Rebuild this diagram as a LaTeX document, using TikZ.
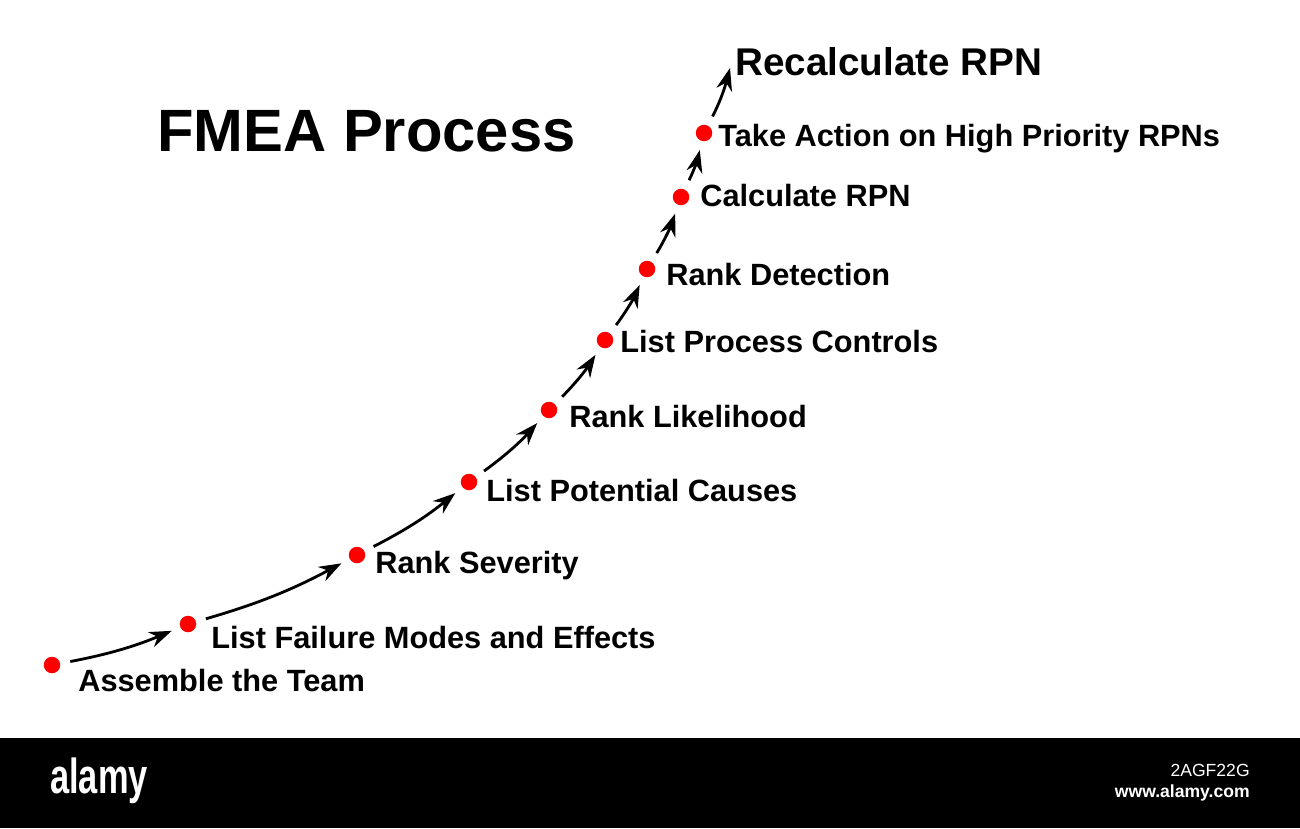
\documentclass[tikz,border=0pt]{standalone}
\usepackage{fontspec}
\setmainfont{Liberation Sans}
\usetikzlibrary{arrows.meta}
\begin{document}
\begin{tikzpicture}[x=0.02cm,y=-0.02cm,
  dot/.style={circle,fill=red,inner sep=0pt,minimum size=0.33cm},
  lbl/.style={anchor=west,font=\fontsize{17.5}{20}\selectfont\bfseries,inner sep=0pt},
  arr/.style={-{Stealth[length=0.45cm,width=0.32cm]},line width=1.6pt,shorten <=0.2cm,shorten >=0.18cm,bend right=6}]
\useasboundingbox (0,0) rectangle (1300,828);
\fill[white] (0,0) rectangle (1300,738);
\fill[black] (0,738) rectangle (1300,828);
\node[anchor=west,text=white,font=\fontsize{28}{30}\selectfont\bfseries,inner sep=0pt,xscale=0.7] (al) at (50,781) {alamy};
\node[anchor=east,text=white,font=\fontsize{10}{12}\selectfont,inner sep=0pt] (id) at (1250,770) {2AGF22G};
\node[anchor=east,text=white,font=\fontsize{10}{12}\selectfont\bfseries,inner sep=0pt] (www) at (1250,793) {www.alamy.com};
\node[anchor=west,inner sep=0pt,font=\fontsize{34}{40}\selectfont\bfseries] (title) at (157,131) {FMEA Process};
\node[dot] (d1) at (52,665) {};
\node[dot] (d2) at (188,624) {};
\node[dot] (d3) at (357,555) {};
\node[dot] (d4) at (469,482) {};
\node[dot] (d5) at (549,410) {};
\node[dot] (d6) at (605,340) {};
\node[dot] (d7) at (647,269) {};
\node[dot] (d8) at (681,197) {};
\node[dot] (d9) at (704,133) {};
\coordinate (e) at (730,68);
\foreach \a/\b in {d1/d2,d2/d3,d3/d4,d4/d5,d5/d6,d6/d7,d7/d8,d8/d9}
  \draw[arr] (\a) to (\b);
\draw[arr,shorten >=0pt] (d9) to (e);
\node[lbl] (l1) at (78,680) {Assemble the Team};
\node[lbl] (l2) at (211,637) {List Failure Modes and Effects};
\node[lbl] (l3) at (375,566) {Rank Severity};
\node[lbl] (l4) at (486,491) {List Potential Causes};
\node[lbl] (l5) at (569,417) {Rank Likelihood};
\node[lbl] (l6) at (620,342) {List Process Controls};
\node[lbl] (l7) at (666,275) {Rank Detection};
\node[lbl] (l8) at (700,196) {Calculate RPN};
\node[lbl] (l9) at (718,139) {Take Action on High Priority RPNs};
\node[anchor=west,inner sep=0pt,font=\fontsize{22}{26}\selectfont\bfseries] (l10) at (735,62) {Recalculate RPN};
\end{tikzpicture}
\end{document}
